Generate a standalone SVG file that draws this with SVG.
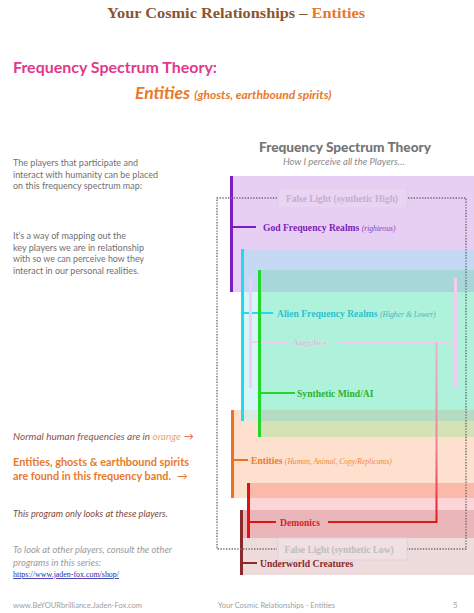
<svg xmlns="http://www.w3.org/2000/svg" width="474" height="613" viewBox="0 0 474 613">
<style>
  .ser { font-family: "Liberation Serif", "DejaVu Serif", serif; font-weight: bold; font-size: 9.6px; }
  .sub { font-family: "Liberation Serif", "DejaVu Serif", serif; font-style: italic; font-weight: normal; font-size: 7.6px; }
  .body { font-family: Lato, "Open Sans", "Liberation Sans", sans-serif; font-size: 10px; fill: #6f6f6f; }
  .it { font-family: Lato, "Open Sans", "Liberation Sans", sans-serif; font-style: italic; font-size: 10px; }
  .bar { stroke-width: 3; fill: none; }
  .tick { stroke-width: 2; fill: none; }
  .dot { stroke: #6e6e6e; stroke-width: 1.4; stroke-dasharray: 1.4 1.4; fill: none; }
  .fl { fill: #ffffff; fill-opacity: 0.12; stroke: #d9cfe0; stroke-width: 0.8; }
</style>
<defs>
  <linearGradient id="demGrad" x1="0" y1="342" x2="0" y2="522" gradientUnits="userSpaceOnUse">
    <stop offset="0" stop-color="#f2b0cf"/>
    <stop offset="0.6" stop-color="#ee7f95"/>
    <stop offset="1" stop-color="#dd1a1a"/>
  </linearGradient>
</defs>
<rect width="474" height="613" fill="#ffffff"/>

<!-- page header texts -->
<text x="236" y="18" text-anchor="middle" font-family="Liberation Serif, DejaVu Serif, serif" font-weight="bold" font-size="14" fill="#8a5630" textLength="258" lengthAdjust="spacingAndGlyphs">Your Cosmic Relationships – <tspan fill="#e8792a">Entities</tspan></text>
<text x="13" y="73" font-family="Lato, Open Sans, Liberation Sans, sans-serif" font-weight="bold" font-size="16" fill="#e2378b" textLength="204" lengthAdjust="spacingAndGlyphs">Frequency Spectrum Theory:</text>
<text x="135" y="99" font-family="Lato, Open Sans, Liberation Sans, sans-serif" font-weight="bold" font-style="italic" fill="#e8792a"><tspan font-size="17.5">Entities</tspan><tspan font-size="12" dx="4">(ghosts, earthbound spirits)</tspan></text>

<!-- left paragraphs -->
<g class="body">
  <text x="13" y="166" textLength="125" lengthAdjust="spacingAndGlyphs">The players that participate and</text>
  <text x="13" y="177.5" textLength="145" lengthAdjust="spacingAndGlyphs">interact with humanity can be placed</text>
  <text x="13" y="189" textLength="129" lengthAdjust="spacingAndGlyphs">on this frequency spectrum map:</text>
  <text x="13" y="239" textLength="113" lengthAdjust="spacingAndGlyphs">It’s a way of mapping out the</text>
  <text x="13" y="250.5" textLength="131" lengthAdjust="spacingAndGlyphs">key players we are in relationship</text>
  <text x="13" y="262" textLength="131" lengthAdjust="spacingAndGlyphs">with so we can perceive how they</text>
  <text x="13" y="273.5" textLength="126" lengthAdjust="spacingAndGlyphs">interact in our personal realities.</text>
</g>
<text class="it" x="13" y="440" font-size="8.6" fill="#8a5548">Normal human frequencies are in <tspan fill="#eba57a">orange</tspan><tspan fill="#e0602a" font-style="normal" dx="3">→</tspan></text>
<g font-family="Lato, Open Sans, Liberation Sans, sans-serif" font-weight="bold" font-size="10.8" fill="#e8792a">
  <text x="13" y="466" textLength="176" lengthAdjust="spacingAndGlyphs">Entities, ghosts &amp; earthbound spirits</text>
  <text x="13" y="480" textLength="158" lengthAdjust="spacingAndGlyphs">are found in this frequency band.</text>
  <text x="177" y="480" font-weight="normal">→</text>
</g>
<text class="it" x="13" y="517" fill="#7d4a42" textLength="155" lengthAdjust="spacingAndGlyphs">This program only looks at these players.</text>
<text class="it" x="13" y="553" fill="#9a9a9a" textLength="159" lengthAdjust="spacingAndGlyphs">To look at other players, consult the other</text>
<text class="it" x="13" y="566" fill="#9a9a9a" textLength="88" lengthAdjust="spacingAndGlyphs">programs in this series:</text>
<text x="13" y="577" font-family="Liberation Serif, DejaVu Serif, serif" font-size="8.5" fill="#2a2aa8" text-decoration="underline" textLength="106" lengthAdjust="spacingAndGlyphs">https://www.jaden-fox.com/shop/</text>
<g font-family="Lato, Open Sans, Liberation Sans, sans-serif" font-size="8" fill="#a0a0a0">
  <text x="13" y="608" textLength="129" lengthAdjust="spacingAndGlyphs">www.BeYOURbrilliance.Jaden-Fox.com</text>
  <text x="218" y="608" textLength="117" lengthAdjust="spacingAndGlyphs">Your Cosmic Relationships - Entities</text>
  <text x="453" y="608">5</text>
</g>

<!-- chart title -->
<text x="345" y="152" text-anchor="middle" font-family="Lato, Open Sans, Liberation Sans, sans-serif" font-weight="900" font-size="14" fill="#757575" textLength="172" lengthAdjust="spacingAndGlyphs">Frequency Spectrum Theory</text>
<text x="344" y="165" text-anchor="middle" font-family="Lato, Open Sans, Liberation Sans, sans-serif" font-style="italic" font-size="9.5" fill="#8a8a8a" textLength="122" lengthAdjust="spacingAndGlyphs">How I perceive all the Players…</text>

<!-- frequency bands -->
<g id="bands">
  <rect x="233" y="176" width="241" height="116" fill="#e7cff3"/>
  <rect x="244" y="249" width="230" height="172" fill="#d6f7fa"/>
  <rect x="244" y="249" width="230" height="43" fill="#c5d9f4"/>
  <rect x="261" y="270" width="213" height="22" fill="#a8d7da"/>
  <rect x="261" y="292" width="213" height="118" fill="#aef2db"/>
  <rect x="234" y="410" width="240" height="88" fill="#fde0cd"/>
  <rect x="244" y="410" width="17" height="11" fill="#dcebe2"/>
  <rect x="261" y="410" width="213" height="11" fill="#b5dcc2"/>
  <rect x="261" y="421" width="213" height="16" fill="#d5e2b5"/>
  <rect x="250" y="483" width="224" height="15" fill="#fbbaa9"/>
  <rect x="250" y="498" width="224" height="12" fill="#fdd4d7"/>
  <rect x="243" y="510" width="231" height="28" fill="#ebb6b9"/>
  <rect x="243" y="538" width="231" height="37" fill="#eedcdd"/>
</g>

<!-- nodes -->
<g id="false-light-high">
  <rect class="fl" x="278" y="188" width="129" height="20"/>
  <text class="ser" x="342" y="201.5" text-anchor="middle" fill="#c3afd0" textLength="112" lengthAdjust="spacingAndGlyphs">False Light (synthetic High)</text>
</g>
<g id="god-frequency">
  <line class="bar" x1="231.5" y1="176" x2="231.5" y2="292" stroke="#7a1ec0"/>
  <line class="tick" x1="233" y1="227" x2="256" y2="227" stroke="#7a1ec0"/>
  <text class="ser" x="263" y="230.5" fill="#7c22b4">God Frequency Realms <tspan class="sub" font-size="8.4" fill="#8d3bc2">(righteous)</tspan></text>
</g>
<g id="alien-frequency">
  <line class="bar" x1="242.5" y1="249" x2="242.5" y2="421" stroke="#26d8ee"/>
  <line class="tick" x1="244" y1="313" x2="273" y2="313" stroke="#26d8ee"/>
  <text class="ser" x="277" y="316.5" fill="#2ec2d0">Alien Frequency Realms <tspan class="sub" fill="#3ab9c6">(Higher &amp; Lower)</tspan></text>
</g>
<g id="angelics">
  <line class="bar" x1="250.5" y1="278" x2="250.5" y2="388" stroke="#f2cdf2"/>
  <line class="bar" x1="455.5" y1="278" x2="455.5" y2="388" stroke="#f2cdf2"/>
  <line x1="252" y1="342" x2="290" y2="342" stroke="#f2cdf2" stroke-width="2"/>
  <line x1="337" y1="342" x2="455" y2="342" stroke="#f2cdf2" stroke-width="2"/>
  <text class="ser" x="292" y="345.5" fill="#cbb6cd" stroke="#efe4ef" stroke-width="0.3">Angelics</text>
</g>
<g id="synthetic-mind">
  <line class="bar" x1="259.5" y1="270" x2="259.5" y2="437" stroke="#22d62a"/>
  <line class="tick" x1="261" y1="393" x2="295" y2="393" stroke="#22d62a"/>
  <text class="ser" x="297" y="396.5" fill="#2bb42f">Synthetic Mind/AI</text>
</g>
<g id="entities">
  <line class="bar" x1="232.5" y1="410" x2="232.5" y2="498" stroke="#f07020"/>
  <line class="tick" x1="234" y1="460" x2="248" y2="460" stroke="#f07020"/>
  <text class="ser" x="251" y="463.5" fill="#f07a2c">Entities <tspan class="sub" fill="#f08a45">(Human, Animal, Copy/Replicants)</tspan></text>
</g>
<g id="demonics">
  <line class="bar" x1="248.5" y1="483" x2="248.5" y2="538" stroke="#de1414"/>
  <line class="tick" x1="250" y1="522" x2="276" y2="522" stroke="#de1414"/>
  <text class="ser" x="280" y="525.5" fill="#d91c1c">Demonics</text>
</g>
<g id="false-light-low">
  <rect class="fl" x="278" y="538" width="129" height="22"/>
  <text class="ser" x="339" y="552.5" text-anchor="middle" fill="#bdbdbd" textLength="109" lengthAdjust="spacingAndGlyphs">False Light (synthetic Low)</text>
</g>
<g id="underworld">
  <line class="bar" x1="241.5" y1="510" x2="241.5" y2="575" stroke="#8b2a2a"/>
  <line class="tick" x1="243" y1="563" x2="257" y2="563" stroke="#8b2a2a"/>
  <text class="ser" x="260" y="566.5" fill="#8a2a2c">Underworld Creatures</text>
</g>

<!-- connectors -->
<g id="connectors">
  <path d="M328,522 H436.5 V342" fill="none" stroke="url(#demGrad)" stroke-width="2"/>
  <path class="dot" d="M277,198 H217 V549 H277"/>
  <path class="dot" d="M408,198 H466 V549 H407"/>
</g>
</svg>
